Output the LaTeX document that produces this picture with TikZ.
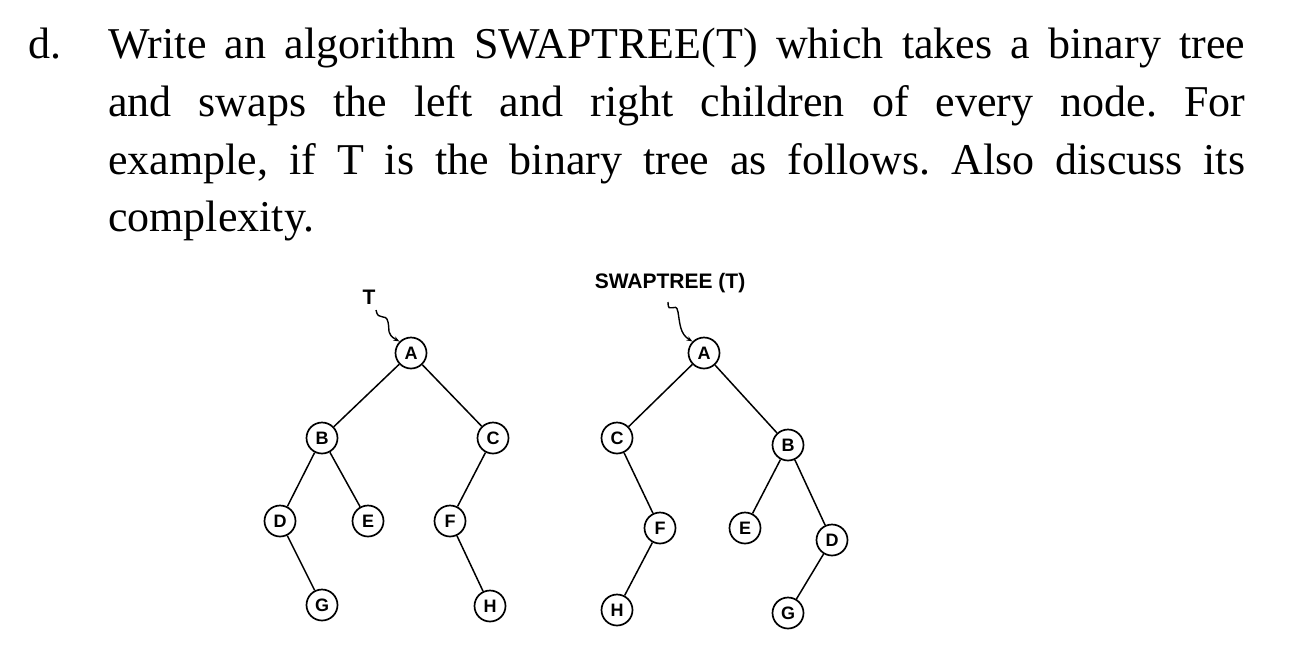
\documentclass[tikz,border=0pt]{standalone}
\usepackage{fontspec}
\setmainfont{Liberation Serif}
\setsansfont{Liberation Sans}
\usetikzlibrary{arrows.meta}
\begin{document}
\frenchspacing
\begin{tikzpicture}[x=1pt,y=-1pt,
  tn/.style={circle,draw,line width=1.7pt,minimum size=31pt,inner sep=0pt,font=\sffamily\bfseries\fontsize{18}{18}\selectfont},
  ed/.style={line width=1.5pt},
  lab/.style={font=\sffamily\bfseries\fontsize{21}{21}\selectfont,inner sep=0pt},
  txt/.style={anchor=base west,inner sep=0pt,font=\fontsize{44}{48}\selectfont},
  sq/.style={line width=1.4pt,-{Stealth[length=6pt]}}]
\useasboundingbox (0,0) rectangle (1316,670);
\node[txt] (d) at (28,58) {d.};
\node[txt] (l1) at (108,58) {\makebox[1137pt][s]{Write an algorithm SWAPTREE(T) which takes a binary tree}};
\node[txt] (l2) at (108,116) {\makebox[1137pt][s]{and swaps the left and right children of every node. For}};
\node[txt] (l3) at (108,174) {\makebox[1137pt][s]{example, if T is the binary tree as follows. Also discuss its}};
\node[txt] (l4) at (108,231) {complexity.};
% left tree
\node[tn] (A) at (411,353) {A};
\node[tn] (B) at (322,438) {B};
\node[tn] (C) at (493,438) {C};
\node[tn] (D) at (280,521) {D};
\node[tn] (E) at (368,521) {E};
\node[tn] (F) at (450,521) {F};
\node[tn] (G) at (322,605) {G};
\node[tn] (H) at (490,606) {H};
\draw[ed] (A)--(B) (A)--(C) (B)--(D) (B)--(E) (C)--(F) (D)--(G) (F)--(H);
\node[lab] (T) at (369,297) {T};
\coordinate (ts) at (376,310);
\draw[sq] (ts) .. controls (378,322) and (386,312) .. (388,322) .. controls (390,330) and (386,334) .. (A.north west);
% right tree
\node[tn] (A2) at (704,353) {A};
\node[tn] (C2) at (617,438) {C};
\node[tn] (B2) at (788,445) {B};
\node[tn] (F2) at (660,528) {F};
\node[tn] (E2) at (745,528) {E};
\node[tn] (D2) at (832,540) {D};
\node[tn] (H2) at (617,610) {H};
\node[tn] (G2) at (788,613) {G};
\draw[ed] (A2)--(C2) (A2)--(B2) (C2)--(F2) (B2)--(E2) (B2)--(D2) (F2)--(H2) (D2)--(G2);
\node[lab] (S) at (670,283) {SWAPTREE (T)};
\coordinate (ss) at (668,302);
\draw[sq] (ss) .. controls (668,316) and (676,300) .. (678,312) .. controls (680,324) and (680,334) .. (A2.north west);
\end{tikzpicture}
\end{document}
